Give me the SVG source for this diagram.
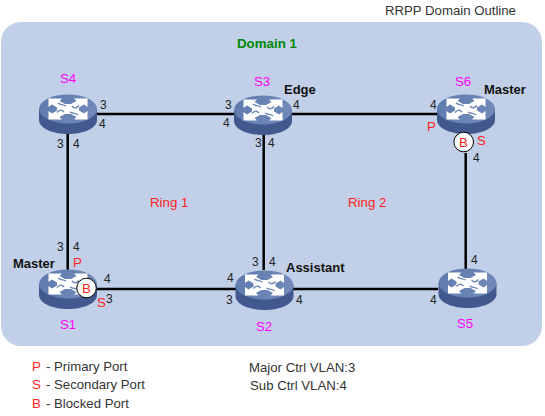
<svg xmlns="http://www.w3.org/2000/svg" width="545" height="416" viewBox="0 0 545 416">
<style>
text{font-family:"Liberation Sans",Arial,sans-serif;font-size:12px;fill:#222}
.b{font-weight:bold;fill:#111;font-size:13px}
.m{fill:#f0f;font-size:13.300px}
.r{fill:#f22;font-size:13.300px}
.l{font-size:13.200px;fill:#333}
.c{stroke:#000;stroke-width:2.500;fill:none}
</style>
<defs>
<linearGradient id="t" x1="0" x2="1" y1="0" y2="0.3"><stop offset="0" stop-color="#5d79ad"/><stop offset="1" stop-color="#7089b8"/></linearGradient>
<g id="sw">
<path d="M-29 0V11C-29 19 -16 25 0 25S29 19 29 11V0Z" fill="#41598f"/>
<ellipse rx="29" ry="14.500" fill="url(#t)"/>
<path d="M-19.500-10.500H-6L-8.500-8L-3-5H3L8.500-8L6-10.500H19.500V-2L16-4.500L11-1.500V1.500L16 4.500L19.500 2V10.500H6L8.500 8L3 5H-3L-8.500 8L-6 10.500H-19.500V2L-16 4.500L-11 1.500V-1.500L-16-4.500L-19.500-2Z" fill="#fff"/>
<path d="M-11 3.500C-8 0-6 1-4 3M-2-3C-5-5-8-4-10-6M11-3.500C8 0 6-1 4-3M2 3C5 5 8 4 10 6" stroke="#6580b2" stroke-width="1.300" fill="none"/>
</g>
</defs>
<rect x="1" y="22" width="541" height="324" rx="20" fill="#c1d0e8"/>
<text x="385" y="15" class="l">RRPP Domain Outline</text>
<text x="237" y="48" style="font-weight:bold;fill:#080;font-size:13.300px">Domain 1</text>
<g id="connectors">
<path class="c" d="M97 114H437M67.700 134V270M263.700 134V270M97 289H438M465.700 153V270"/>
</g>
<g id="S4"><use href="#sw" x="68" y="109"/><text x="60" y="83" class="m">S4</text></g>
<g id="S3"><use href="#sw" x="263" y="110"/><text x="254" y="86" class="m">S3</text><text x="284" y="94" class="b">Edge</text></g>
<g id="S6"><use href="#sw" x="466" y="109"/><text x="455" y="86" class="m">S6</text><text x="484" y="94" class="b">Master</text></g>
<g id="S1"><use href="#sw" x="68" y="284"/><text x="60" y="329" class="m">S1</text><text x="13" y="268" class="b">Master</text>
<circle cx="86.500" cy="288" r="9.800" fill="#fff" stroke="#000"/><text x="82" y="292.500" class="r">B</text></g>
<g id="S2"><use href="#sw" x="264.500" y="285"/><text x="256" y="331" class="m">S2</text><text x="286" y="272" class="b">Assistant</text></g>
<g id="S5"><use href="#sw" x="467.500" y="283"/><text x="457" y="328" class="m">S5</text></g>
<circle cx="463.700" cy="142" r="9.800" fill="#fff" stroke="#000"/><text x="459" y="146.500" class="r">B</text>
<g id="labels">
<text x="100" y="109">3</text><text x="99" y="128">4</text><text x="57" y="148">3</text><text x="73" y="148">4</text>
<text x="225" y="109">3</text><text x="223" y="127">4</text><text x="293" y="109">4</text><text x="255" y="147">3</text><text x="268" y="147">4</text>
<text x="430" y="109">4</text>
<text x="57" y="251">3</text><text x="73" y="251">4</text><text x="104" y="283">4</text><text x="106" y="303">3</text>
<text x="227" y="282">4</text><text x="226" y="304">3</text><text x="252" y="266">3</text><text x="269" y="266">4</text><text x="296" y="304">4</text>
<text x="430" y="304">4</text><text x="471" y="264">4</text><text x="473" y="162">4</text>
<text x="73" y="267" class="r">P</text><text x="97" y="307" class="r">S</text><text x="427" y="131" class="r">P</text><text x="477" y="145" class="r">S</text>
<text x="150" y="207" class="r">Ring 1</text><text x="348" y="207" class="r">Ring 2</text>
</g>
<g id="legend">
<text x="32" y="371" class="r">P</text><text x="46" y="371" class="l">- Primary Port</text>
<text x="32" y="389" class="r">S</text><text x="46" y="389" class="l">- Secondary Port</text>
<text x="32" y="408" class="r">B</text><text x="46" y="408" class="l">- Blocked Port</text>
<text x="249" y="372" class="l">Major Ctrl VLAN:3</text><text x="250" y="390" class="l">Sub Ctrl VLAN:4</text>
</g>
</svg>
